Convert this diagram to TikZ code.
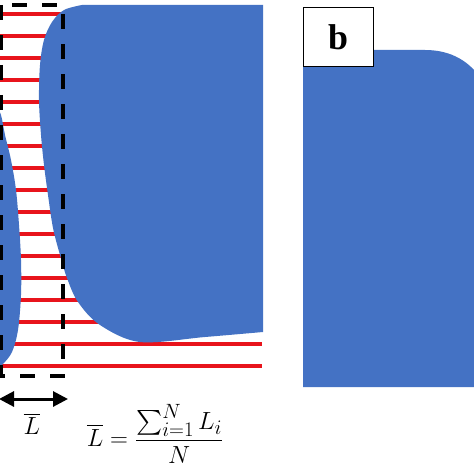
\documentclass[tikz,border=0pt]{standalone}
\usepackage{amsmath}
\usepackage{fontspec}
\newfontfamily\timesfont{Liberation Serif}
\usetikzlibrary{arrows.meta}
\definecolor{shapeblue}{HTML}{4472C4}
\definecolor{linered}{HTML}{E8141C}
\tikzset{
  redline/.style={draw=linered, line width=3.6bp},
  blueshape/.style={fill=shapeblue, draw=none},
  dashbox/.style={draw=black, line width=3.6bp, dash pattern=on 15bp off 15bp},
  dimarrow/.style={draw=black, line width=3bp, {Triangle[length=15bp,width=15bp]}-{Triangle[length=15bp,width=15bp]}},
  labelbox/.style={draw=black, fill=white, line width=1bp, minimum width=70bp, minimum height=59bp, inner sep=0pt},
  mathtext/.style={inner sep=0pt, font=\fontsize{28}{34}\selectfont}
}
\begin{document}
\begin{tikzpicture}[x=1bp,y=-1bp]
\useasboundingbox (0,0) rectangle (474,474);
\clip (0,0) rectangle (474,474);
\fill[white] (0,0) rectangle (474,474);
% red measuring lines
\foreach \k in {0,...,16}{
  \draw[redline] (0,{14+22*\k}) -- (262,{14+22*\k});
}
% main blue shape (panel a)
\fill[blueshape] (263,5) -- (263,332) -- plot[smooth, tension=0.55] coordinates {(263,332) (205,337) (140,342) (100,325) (78,302) (67,278) (60,255) (53,228) (48,195) (44,165) (41,135) (39,100) (40,65) (44,40) (52,22) (64,10) (82,5)} -- cycle;
% small blue shape at left edge
\fill[blueshape] plot[smooth, tension=0.55] coordinates {(-4,105) (1,115) (5,135) (11,160) (16,190) (19,225) (21,260) (21,295) (18,330) (12,352) (3,364) (-4,370)} -- (-10,370) -- (-10,105) -- cycle;
% right panel blue shape
\fill[blueshape] (303,50) -- (425,50) .. controls (452,50) and (470,62) .. (482,80) -- (482,387) -- (303,387) -- cycle;
% dashed rectangle
\draw[dashbox] (1,5) rectangle (63,376);
% label b
\node[labelbox] (lb) at (338,37.5) {\timesfont\fontsize{36}{38}\selectfont\bfseries b};
% dimension arrow
\coordinate (al) at (-1,399);
\coordinate (ar) at (68,399);
\draw[dimarrow] (al) -- (ar);
\node[mathtext] (lbar) at (32,424) {$\overline{L}$};
\node[mathtext] (formula) at (155,434) {$\displaystyle\overline{L}=\frac{\textstyle\sum_{i=1}^{N}L_i}{N}$};
\end{tikzpicture}
\end{document}
